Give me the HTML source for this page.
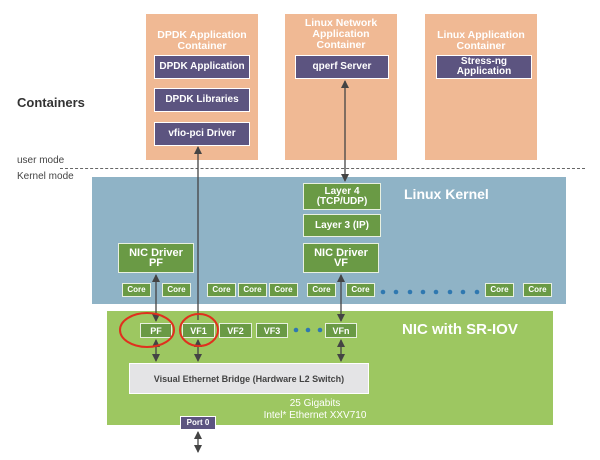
<!DOCTYPE html>
<html><head><meta charset="utf-8"><style>
body{margin:0;width:600px;height:460px;background:#fff;position:relative;overflow:hidden;font-family:"Liberation Sans",sans-serif}
div{position:absolute;box-sizing:border-box}
.or{background:#f0b994;color:#fff;font-weight:bold;font-size:10.5px;text-align:center;line-height:11px;padding-top:4px}
.pu{background:#5c5480;border:1px solid #fff;color:#fff;font-weight:bold;font-size:10px;text-align:center;display:flex;align-items:center;justify-content:center;line-height:10px}
.gr{background:#6a9a45;border:1px solid #e8f0e0;color:#fff;font-weight:bold;font-size:10px;text-align:center;display:flex;align-items:center;justify-content:center;line-height:10px}
.c{top:283px;height:14px;width:29px;font-size:8px}
.v{top:323px;height:15px;font-size:9px}
</style></head><body>
<div class="or" style="left:146px;top:14px;width:112px;height:146px;padding-top:16px">DPDK Application<br>Container</div>
<div class="or" style="left:285px;top:14px;width:112px;height:146px">Linux Network<br>Application<br>Container</div>
<div class="or" style="left:425px;top:14px;width:112px;height:146px;padding-top:16px">Linux Application<br>Container</div>
<div class="pu" style="left:154px;top:55px;width:96px;height:24px">DPDK Application</div>
<div class="pu" style="left:154px;top:88px;width:96px;height:24px">DPDK Libraries</div>
<div class="pu" style="left:154px;top:122px;width:96px;height:24px">vfio-pci Driver</div>
<div class="pu" style="left:295px;top:55px;width:94px;height:24px">qperf Server</div>
<div class="pu" style="left:436px;top:55px;width:96px;height:24px">Stress-ng<br>Application</div>
<div style="left:17px;top:95px;font-size:13px;font-weight:bold;color:#333">Containers</div>
<div style="left:17px;top:155px;font-size:10px;color:#444">user mode</div>
<div style="left:17px;top:171px;font-size:10px;color:#444">Kernel mode</div>
<div style="left:60px;top:168px;width:525px;border-top:1px dashed #666"></div>
<div style="left:92px;top:177px;width:474px;height:127px;background:#8fb3c6"></div>
<div style="left:404px;top:186px;font-size:14px;font-weight:bold;color:#fff">Linux Kernel</div>
<div class="gr" style="left:303px;top:183px;width:78px;height:27px">Layer 4<br>(TCP/UDP)</div>
<div class="gr" style="left:303px;top:214px;width:78px;height:23px">Layer 3 (IP)</div>
<div class="gr" style="left:118px;top:243px;width:76px;height:30px;font-size:11px">NIC Driver<br>PF</div>
<div class="gr" style="left:303px;top:243px;width:76px;height:30px;font-size:11px">NIC Driver<br>VF</div>
<div class="gr c" style="left:122px">Core</div><div class="gr c" style="left:162px">Core</div>
<div class="gr c" style="left:207px">Core</div><div class="gr c" style="left:238px">Core</div>
<div class="gr c" style="left:269px">Core</div><div class="gr c" style="left:307px">Core</div>
<div class="gr c" style="left:346px">Core</div><div class="gr c" style="left:485px">Core</div>
<div class="gr c" style="left:523px">Core</div>
<div style="left:107px;top:311px;width:446px;height:114px;background:#9dc761"></div>
<div style="left:402px;top:321px;font-size:15px;font-weight:bold;color:#fff">NIC with SR-IOV</div>
<div class="gr v" style="left:140px;width:32px">PF</div>
<div class="gr v" style="left:182px;width:33px">VF1</div>
<div class="gr v" style="left:219px;width:33px">VF2</div>
<div class="gr v" style="left:256px;width:32px">VF3</div>
<div class="gr v" style="left:325px;width:32px">VFn</div>
<div style="left:129px;top:363px;width:240px;height:31px;background:#e4e4e6;border:1px solid #fff;font-size:9px;font-weight:bold;color:#444;display:flex;align-items:center;justify-content:center">Visual Ethernet Bridge (Hardware L2 Switch)</div>
<div style="left:240px;top:398px;width:150px;text-align:center;font-size:10px;color:#fff;line-height:12px">25 Gigabits<br>Intel* Ethernet XXV710</div>
<div class="pu" style="left:180px;top:416px;width:36px;height:14px;font-size:8px">Port 0</div>
<svg width="600" height="460" style="position:absolute;left:0;top:0">
<defs><marker id="a" markerWidth="8" markerHeight="8" refX="7" refY="4" orient="auto-start-reverse" markerUnits="userSpaceOnUse"><path d="M0,0L8,4L0,8z" fill="#444"/></marker></defs>
<g stroke="#444" stroke-width="1.3" fill="none">
<line x1="198" y1="320" x2="198" y2="147" marker-end="url(#a)"/>
<line x1="345" y1="81" x2="345" y2="181" marker-start="url(#a)" marker-end="url(#a)"/>
<line x1="156" y1="275" x2="156" y2="321" marker-start="url(#a)" marker-end="url(#a)"/>
<line x1="341" y1="275" x2="341" y2="321" marker-start="url(#a)" marker-end="url(#a)"/>
<line x1="156" y1="340" x2="156" y2="361" marker-start="url(#a)" marker-end="url(#a)"/>
<line x1="198" y1="340" x2="198" y2="361" marker-start="url(#a)" marker-end="url(#a)"/>
<line x1="341" y1="340" x2="341" y2="361" marker-start="url(#a)" marker-end="url(#a)"/>
<line x1="198" y1="432" x2="198" y2="452" marker-start="url(#a)" marker-end="url(#a)"/>
</g>
<g fill="#2f78b0"><circle cx="383" cy="292" r="2.3"/><circle cx="396" cy="292" r="2.3"/><circle cx="410" cy="292" r="2.3"/><circle cx="423" cy="292" r="2.3"/><circle cx="436" cy="292" r="2.3"/><circle cx="450" cy="292" r="2.3"/><circle cx="463" cy="292" r="2.3"/><circle cx="477" cy="292" r="2.3"/>
<circle cx="296" cy="330" r="2.3"/><circle cx="308" cy="330" r="2.3"/><circle cx="320" cy="330" r="2.3"/></g>
<g stroke="#e0301e" stroke-width="2" fill="none"><ellipse cx="147" cy="330" rx="27" ry="17"/><ellipse cx="199" cy="330" rx="19" ry="16"/></g>
</svg>
</body></html>
